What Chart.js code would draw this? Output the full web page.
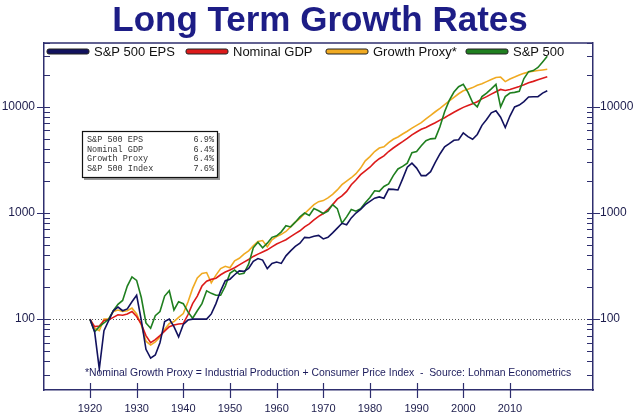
<!DOCTYPE html>
<html>
<head>
<meta charset="utf-8">
<script src="https://cdn.jsdelivr.net/npm/chart.js@4.4.1/dist/chart.umd.min.js"></script>
<style>
  html, body { margin: 0; padding: 0; background: #fff; }
  #wrap { width: 640px; height: 415px; position: relative; }
</style>
</head>
<body>
<div id="wrap"><canvas id="growthChart" width="640" height="415"></canvas></div>
<script>
// years 1920..2018, one value per year, index 1920 = 100
const years = [];
for (let y = 1920; y <= 2018; y++) years.push(y);

const epsValues = [
  100, 76, 34, 78, 97, 120, 130, 120, 125, 146,
  168, 98, 52, 43, 46, 60, 95, 100, 85, 68,
  89, 98, 100, 100, 100, 100, 112, 140, 185, 230,
  238, 262, 285, 282, 300, 350, 372, 360, 300, 335,
  345, 335, 395, 440, 485, 520, 590, 585, 605, 615,
  570, 590, 650, 720, 800, 775, 900, 1000, 1080, 1200,
  1290, 1380, 1420, 1380, 1680, 1670, 1650, 2100, 2700, 2950,
  2650, 2250, 2250, 2450, 3000, 3600, 4200, 4500, 4850, 4900,
  5700, 5250, 4950, 5500, 6700, 7600, 8800, 9200, 8000, 6400,
  8200, 10000, 10400, 11200, 12400, 12450, 12500, 13500, 14200
];

const gdpValues = [
  100, 85, 86, 97, 99, 104, 110, 109, 112, 118,
  106, 90, 70, 60, 64, 70, 77, 85, 88, 90,
  91, 110, 140, 165, 205, 228, 237, 243, 262, 278,
  290, 305, 325, 345, 365, 390, 410, 430, 450, 480,
  510, 535, 560, 600, 640, 680, 740, 790, 860, 930,
  990, 1080, 1200, 1350, 1450, 1600, 1850, 2050, 2300, 2500,
  2700, 3000, 3250, 3450, 3800, 4100, 4400, 4700, 5050, 5450,
  5800, 6150, 6400, 6750, 7100, 7500, 7900, 8400, 8900, 9400,
  9900, 10300, 10700, 11200, 11900, 12500, 13200, 13900, 14600, 14300,
  14600, 15100, 15600, 16200, 16900, 17400, 18000, 18600, 19200
];

const proxyValues = [
  100, 82, 78, 100, 100, 118, 122, 118, 120, 127,
  112, 88, 62, 57, 61, 68, 80, 91, 95, 104,
  113, 145, 195, 245, 270, 275, 220, 260, 300, 315,
  305, 355, 375, 410, 440, 490, 540, 550, 480, 560,
  600, 630, 670, 740, 820, 890, 990, 1090, 1200, 1280,
  1310, 1390, 1500, 1650, 1850, 2000, 2150, 2350, 2650, 3100,
  3400, 3800, 4100, 4200, 4600, 4950, 5200, 5550, 5900, 6300,
  6700, 7100, 7700, 8300, 9000, 9700, 10500, 11400, 12300, 13300,
  14200, 14700, 15200, 16000, 16500, 17300, 18100, 18900, 19100, 17300,
  18300, 19100, 20000, 20700, 21300, 21700, 22000, 22300, 22600
];

const spxValues = [
  100, 76, 85, 92, 100, 120, 138, 150, 205, 250,
  232, 160, 92, 82, 108, 118, 165, 185, 122, 146,
  140, 117, 102, 120, 140, 185, 175, 168, 168, 205,
  270, 290, 265, 270, 330, 470, 530, 470, 520, 590,
  610, 665, 760, 740, 820, 920, 1000, 950, 1100, 1050,
  990, 1040, 1200, 1100, 800, 920, 1080, 1040, 1100, 1250,
  1400, 1620, 1600, 1780, 1880, 2250, 2600, 2750, 2950, 3700,
  3800, 4300, 4800, 5000, 5050, 6500, 9000, 11500, 13800, 15500,
  16300, 13800, 11000, 10000, 12500, 13500, 14800, 16300, 10000, 12500,
  13500, 13700, 14000, 18500, 21500, 22000, 23500, 26500, 30000
];

const seriesNames = ['S&P 500 EPS', 'Nominal GDP', 'Growth Proxy*', 'S&P 500'];
const seriesColors = ['#12125e', '#dc1a1a', '#f0aa22', '#1f7f1f'];

const yMajorTicks = [100, 1000, 10000];
const yMinorTicks = [30, 40, 50, 60, 70, 80, 90, 200, 300, 400, 500, 600, 700, 800, 900,
  2000, 3000, 4000, 5000, 6000, 7000, 8000, 9000, 20000, 30000, 40000];
const xTicks = [1920, 1930, 1940, 1950, 1960, 1970, 1980, 1990, 2000, 2010];

const rateLabels = ['S&P 500 EPS', 'Nominal GDP', 'Growth Proxy', 'S&P 500 Index'];
const rateValues = ['6.9%', '6.4%', '6.4%', '7.6%'];

const titleText = 'Long Term Growth Rates';
const footText = '*Nominal Growth Proxy = Industrial Production + Consumer Price Index  -  Source: Lohman Econometrics';

const axisColor = '#2e2e6e';
const labelColor = '#1c1c4c';

function toPoints(vals) {
    return vals.map((v, i) => ({ x: years[i], y: v }));
}

const decorPlugin = {
    id: 'decor',
    beforeDraw(chart) {
        const ctx = chart.ctx;
        ctx.save();
        ctx.fillStyle = '#fff';
        ctx.fillRect(0, 0, chart.width, chart.height);
        ctx.restore();
    },
    beforeDatasetsDraw(chart) {
        // dotted reference line at 100
        const ctx = chart.ctx;
        const a = chart.chartArea;
        const y = Math.round(chart.scales.y.getPixelForValue(100)) + 0.5;
        ctx.save();
        ctx.strokeStyle = '#555';
        ctx.lineWidth = 1;
        ctx.setLineDash([1, 2]);
        ctx.beginPath();
        ctx.moveTo(a.left, y);
        ctx.lineTo(a.right, y);
        ctx.stroke();
        ctx.restore();
    },
    afterDraw(chart) {
        const ctx = chart.ctx;
        const a = chart.chartArea;
        const ys = chart.scales.y;
        const xs = chart.scales.x;
        ctx.save();

        // top frame line
        ctx.strokeStyle = axisColor;
        ctx.lineWidth = 1.5;
        ctx.beginPath();
        ctx.moveTo(a.left, a.top);
        ctx.lineTo(a.right, a.top);
        ctx.stroke();

        // y tick marks, both sides
        ctx.lineWidth = 1.2;
        yMinorTicks.forEach(v => {
            const p = Math.round(ys.getPixelForValue(v)) + 0.5;
            ctx.beginPath();
            ctx.moveTo(a.left, p); ctx.lineTo(a.left + 6, p);
            ctx.moveTo(a.right, p); ctx.lineTo(a.right - 6, p);
            ctx.stroke();
        });
        yMajorTicks.forEach(v => {
            const p = Math.round(ys.getPixelForValue(v)) + 0.5;
            ctx.beginPath();
            ctx.moveTo(a.left - 7, p); ctx.lineTo(a.left + 6, p);
            ctx.moveTo(a.right + 7, p); ctx.lineTo(a.right - 6, p);
            ctx.stroke();
        });
        // x tick marks
        xTicks.forEach(v => {
            const p = Math.round(xs.getPixelForValue(v)) + 0.5;
            ctx.beginPath();
            ctx.moveTo(p, a.bottom - 7); ctx.lineTo(p, a.bottom + 8);
            ctx.stroke();
        });

        // title
        ctx.fillStyle = '#1d1d86';
        ctx.font = 'bold 35px "Liberation Sans", Arial, sans-serif';
        ctx.textAlign = 'center';
        ctx.textBaseline = 'alphabetic';
        ctx.fillText(titleText, 320, 31);

        // legend
        const legendX = [47, 186, 326, 466];
        ctx.font = '13px "Liberation Sans", Arial, sans-serif';
        ctx.textAlign = 'left';
        ctx.textBaseline = 'middle';
        seriesNames.forEach((name, i) => {
            const x = legendX[i];
            ctx.beginPath();
            ctx.roundRect(x, 49, 42, 5, 2);
            ctx.fillStyle = seriesColors[i];
            ctx.fill();
            ctx.strokeStyle = '#222';
            ctx.lineWidth = 1;
            ctx.stroke();
            ctx.fillStyle = '#111';
            ctx.fillText(name, x + 47, 52);
        });

        // growth rate box
        ctx.fillStyle = '#999';
        ctx.fillRect(84, 133, 136, 47);
        ctx.fillStyle = '#fff';
        ctx.fillRect(82, 131, 136, 47);
        ctx.strokeStyle = '#111';
        ctx.lineWidth = 1.2;
        ctx.strokeRect(82.5, 131.5, 135, 46);
        ctx.font = '8.5px "Liberation Mono", "DejaVu Sans Mono", monospace';
        ctx.fillStyle = '#333';
        rateLabels.forEach((lab, i) => {
            const y = 140 + i * 9.5;
            ctx.textAlign = 'left';
            ctx.fillText(lab, 87, y);
            ctx.textAlign = 'right';
            ctx.fillText(rateValues[i], 214, y);
        });

        // footnote
        ctx.fillStyle = '#1c1c5c';
        ctx.font = '10.4px "Liberation Sans", Arial, sans-serif';
        ctx.textAlign = 'left';
        ctx.fillText(footText, 85, 373);

        ctx.restore();
    }
};

const datasets = [0, 3, 1, 2].map(i => ({
    label: seriesNames[i],
    data: toPoints([epsValues, gdpValues, proxyValues, spxValues][i]),
    borderColor: seriesColors[i],
    borderWidth: 1.6,
    pointRadius: 0,
    fill: false,
    tension: 0
}));

const yCommon = {
    type: 'logarithmic',
    min: 21.5,
    max: 40000,
    grid: { display: false, drawTicks: false },
    border: { color: axisColor, width: 1.5 },
    afterBuildTicks: s => { s.ticks = yMajorTicks.map(v => ({ value: v })); },
    ticks: {
        color: labelColor,
        font: { size: 12, family: '"Liberation Sans", Arial, sans-serif' },
        callback: v => String(v)
    }
};

new Chart(document.getElementById('growthChart').getContext('2d'), {
    type: 'line',
    data: { datasets: datasets },
    options: {
        responsive: false,
        animation: false,
        devicePixelRatio: 1,
        layout: { padding: { top: 43, left: 0, right: 0, bottom: 0 } },
        plugins: { legend: { display: false }, tooltip: { enabled: false } },
        scales: {
            x: {
                type: 'linear',
                min: 1910.15,
                max: 2027.8,
                grid: { display: false, drawTicks: false },
                border: { color: axisColor, width: 1.5 },
                afterBuildTicks: s => { s.ticks = xTicks.map(v => ({ value: v })); },
                afterFit: s => { s.height = 25; },
                ticks: {
                    color: labelColor,
                    padding: 12,
                    maxRotation: 0,
                    font: { size: 11, family: '"Liberation Sans", Arial, sans-serif' },
                    callback: v => String(v)
                }
            },
            y: Object.assign({}, yCommon, {
                position: 'left',
                afterFit: s => { s.width = 44; },
                ticks: Object.assign({}, yCommon.ticks, { padding: 9 })
            }),
            y2: Object.assign({}, yCommon, {
                position: 'right',
                afterFit: s => { s.width = 47; },
                ticks: Object.assign({}, yCommon.ticks, { padding: 7 })
            })
        }
    },
    plugins: [decorPlugin]
});
</script>
</body>
</html>
